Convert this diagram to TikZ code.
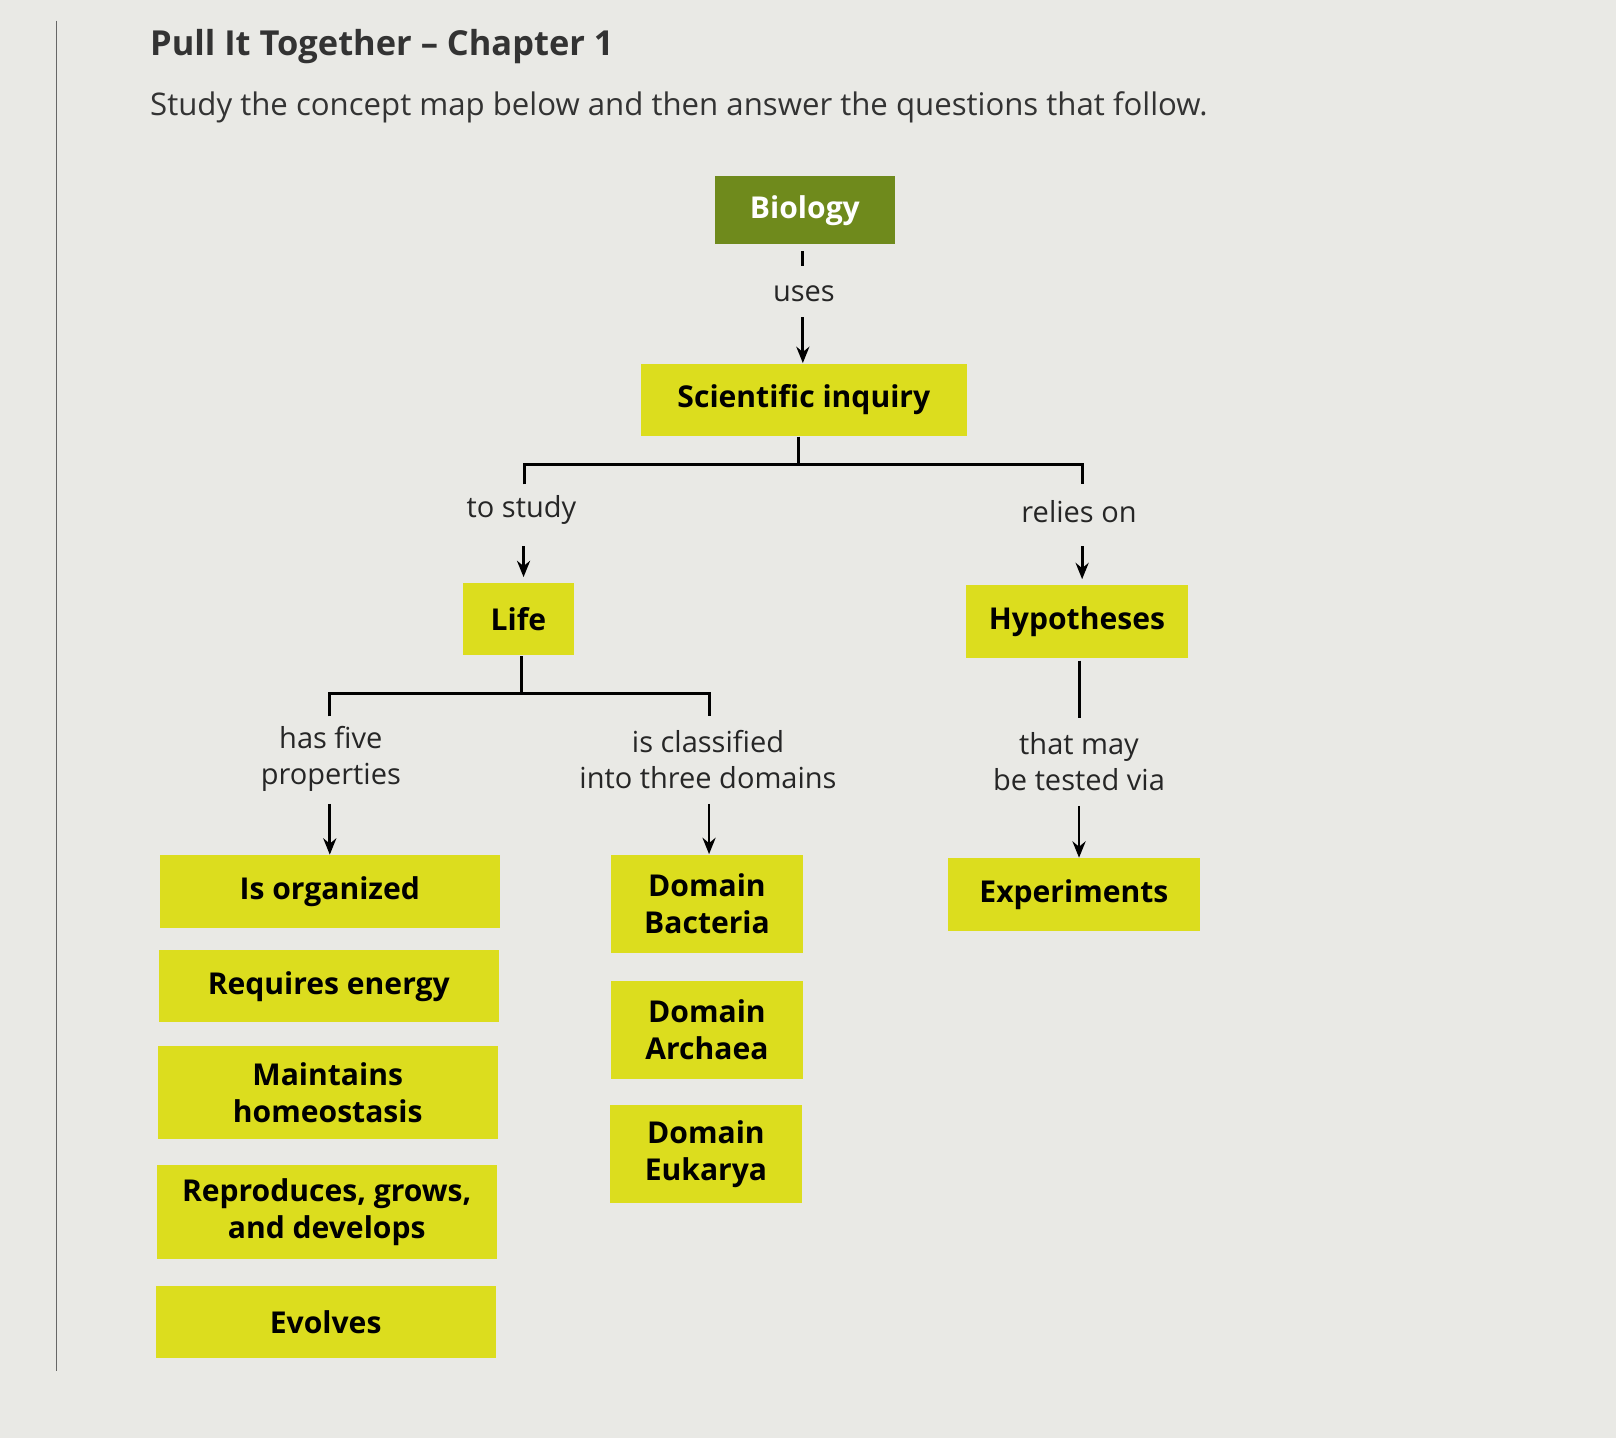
\documentclass[tikz,border=0pt]{standalone}
\usepackage{fontspec}
\setmainfont{Open Sans}
\usetikzlibrary{arrows.meta}
\definecolor{boxyellow}{HTML}{DCDD1E}
\definecolor{boxolive}{HTML}{6F8A1C}
\definecolor{paper}{HTML}{E9E9E5}
\tikzset{
  box/.style={fill=boxyellow, font=\bfseries\fontsize{8.3}{10.2}\selectfont, align=center, inner sep=0pt},
  lbl/.style={font=\fontsize{8}{10}\selectfont, align=center, text=black!85},
  arr/.style={-{Stealth[length=4.5pt,width=3.6pt]}, line width=0.75pt},
  bar/.style={line width=0.85pt}
}
\begin{document}
\begin{tikzpicture}[x=0.01cm, y=-0.01cm]

\fill[paper] (0,0) rectangle (1568,1395);
\useasboundingbox (0,0) rectangle (1568,1395);
\draw[black!60, line width=0.4pt] (55,20) -- (55,1330);

\node[anchor=west, inner sep=0pt, font=\bfseries\fontsize{9.5}{11}\selectfont, text=black!80] (title) at (145,45) {Pull It Together -- Chapter 1};
\node[anchor=west, inner sep=0pt, font=\fontsize{8.6}{10}\selectfont, text=black!80] (intro) at (145,104) {Study the concept map below and then answer the questions that follow.};

% top boxes
\node[box, fill=boxolive, text=white, minimum width=1.74cm, minimum height=0.66cm] (bio) at (781,204) {Biology};
\node[lbl] (uses) at (780,285) {uses};
\node[box, minimum width=3.16cm, minimum height=0.7cm] (sci) at (780,388) {Scientific inquiry};
\draw[bar] (779,244) -- (779,258);
\draw[arr] (779,308) -- (sci.north -| 779,0);

% branch of scientific inquiry
\coordinate (sj) at (775,451);
\node[lbl] (study) at (506,495) {to study};
\node[lbl] (relies) at (1047,496) {relies on};
\node[box, minimum width=1.08cm, minimum height=0.7cm] (life) at (503,601) {Life};
\node[box, minimum width=2.16cm, minimum height=0.7cm] (hyp) at (1045,603) {Hypotheses};
\draw[bar] (sci.south -| sj) -- (sj);
\draw[bar] (509,470) -- (509,451) -- (1050,451) -- (1050,470);
\draw[arr] (508,530) -- (508,560);
\draw[arr] (1050,530) -- (1050,562);

% branch of life
\coordinate (lj) at (506,673);
\draw[bar] (life.south -| lj) -- (lj);
\draw[bar] (320,695) -- (320,673) -- (688,673) -- (688,695);
\node[lbl] (five) at (321,736) {has five\\properties};
\node[lbl] (classed) at (687,737) {is classified\\into three domains};
\node[lbl] (tested) at (1047,739) {that may\\be tested via};
\draw[bar] (1047,641) -- (1047,697);

% properties
\node[box, minimum width=3.3cm, minimum height=0.7cm] (org) at (320,865) {Is organized};
\node[box, minimum width=3.3cm, minimum height=0.7cm] (energy) at (319,957) {Requires energy};
\node[box, minimum width=3.3cm, minimum height=0.9cm] (homeo) at (318,1060) {Maintains\\homeostasis};
\node[box, minimum width=3.3cm, minimum height=0.92cm] (grow) at (317,1176) {Reproduces, grows,\\and develops};
\node[box, minimum width=3.3cm, minimum height=0.7cm] (evolve) at (316,1283) {Evolves};
\draw[arr] (320,780) -- (org.north -| 320,0);

% domains
\node[box, minimum width=1.87cm, minimum height=0.95cm] (bact) at (686,877) {Domain\\Bacteria};
\node[box, minimum width=1.87cm, minimum height=0.95cm] (arch) at (686,999) {Domain\\Archaea};
\node[box, minimum width=1.87cm, minimum height=0.95cm] (euk) at (685,1120) {Domain\\Eukarya};
\draw[arr] (688,780) -- (bact.north -| 688,0);

% experiments
\node[box, minimum width=2.44cm, minimum height=0.7cm] (exp) at (1042,868) {Experiments};
\draw[arr] (1047,782) -- (exp.north -| 1047,0);

\end{tikzpicture}
\end{document}
